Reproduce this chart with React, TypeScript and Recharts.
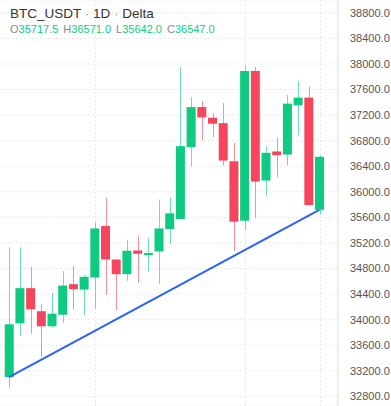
import React from "react";
import { ComposedChart, Bar, XAxis, YAxis, CartesianGrid, ReferenceLine } from "recharts";

const days = ["1","2","3","4","5","6","7","8","9","10","11","12","13","14","15","16","17","18","19","20","21","22","23","24","25","26","27","28","29","30"];
const opens = [33101,33944,34493,34132,33897,34078,34555,34471,34659,35465,34941,34712,35082,35010,35067,35418,35575,36698,37325,37159,37074,36478,35548,37890,36176,36631,36583,37352,37473,35717.5];
const highs = [35130,35130,34827,34242,34419,34759,34838,34701,35528,35904,34950,35246,35313,35277,35878,35914,37953,37482,37415,37231,37388,36767,37980,37953,36709,36845,37520,37733,37650,36571];
const lows = [32924,33740,33780,33415,33875,33953,34163,34069,34173,34383,34147,34607,34576,34753,34555,35183,35575,36395,36803,36855,36411,35078,35402,35584,35940,36227,36411,36882,35780,35642];
const closes = [33928,34493,34163,33897,34094,34533,34477,34670,35427,34941,34712,35078,35031,35042,35427,35663,36714,37325,37164,37065,36489,35532,37890,36160,36610,36573,37379,37473,35794,36547];
const trendStart = 33100;
const trendEnd = 35717.5;
const priceTicks = [32800,33200,33600,34000,34400,34800,35200,35600,36000,36400,36800,37200,37600,38000,38400,38800];
const gridDays = ["9","23","30"];
const domainMin = 32650;
const domainMax = 39000;

const GREEN = "#0ECB81";
const RED = "#F6465D";

const data = days.map((d, i) => ({
  day: d,
  range: [lows[i], highs[i]],
  open: opens[i],
  close: closes[i],
  high: highs[i],
  low: lows[i],
  grid: gridDays.includes(d),
}));

const Candle = (props: any) => {
  const { x, y, width, height, payload } = props;
  const top = Math.min(y, y + height);
  const h = Math.abs(height);
  const { open, close, high, low, grid } = payload;
  const k = high === low ? 0 : h / (high - low);
  const toY = (p: number) => top + (high - p) * k;
  const up = close >= open;
  const color = up ? GREEN : RED;
  const bTop = toY(Math.max(open, close));
  const bBot = toY(Math.min(open, close));
  const cx = Math.round(x + width / 2) + 0.5;
  return (
    <g>
      {grid && k > 0 ? (
        <line x1={cx} x2={cx} y1={toY(domainMax)} y2={toY(domainMin)} stroke="#e8e8e8" strokeDasharray="2 2" />
      ) : null}
      <line x1={cx} x2={cx} y1={top} y2={top + h} stroke={color} strokeOpacity={0.6} strokeWidth={1} />
      <rect x={x} y={bTop} width={width} height={Math.max(1, bBot - bTop)} fill={color} />
    </g>
  );
};

export default function App() {
  return (
    <div style={{ position: "fixed", left: 0, top: 0, width: 391, height: 406, background: "#fff" }}>
      <ComposedChart width={391} height={406} data={data} margin={{ top: 0, right: 0, bottom: 0, left: 0 }} barCategoryGap="10%">
        <CartesianGrid vertical={false} stroke="#e8e8e8" strokeDasharray="2 2" />
        <XAxis dataKey="day" hide padding={{ left: 3.65, right: 13.35 }} />
        <YAxis
          orientation="right"
          width={53}
          domain={[domainMin, domainMax]}
          ticks={priceTicks}
          interval={0}
          allowDataOverflow
          tickFormatter={(v: number) => v.toFixed(1)}
          tickLine={false}
          axisLine={{ stroke: "#e0e0e0" }}
          tick={{ fill: "#555", fontSize: 11, fontFamily: "Liberation Sans, Arial, sans-serif" }}
          tickMargin={6}
        />
        <Bar dataKey="range" shape={<Candle />} isAnimationActive={false} />
        <ReferenceLine
          segment={[{ x: days[0], y: trendStart }, { x: days[days.length - 1], y: trendEnd }]}
          stroke="#2962FF"
          strokeWidth={2}
        />
      </ComposedChart>
      <svg width={391} height={40} style={{ position: "absolute", left: 0, top: 0, pointerEvents: "none" }}>
        <text x={10} y={18} fontSize={13.5} fontFamily="Liberation Sans, Arial, sans-serif" fill="#333">
          BTC_USDT<tspan fill="#999"> · </tspan>1D<tspan fill="#999"> · </tspan>Delta
        </text>
        <text x={10} y={33} fontSize={11} fontFamily="Liberation Sans, Arial, sans-serif">
          <tspan fill="#888">O</tspan><tspan fill={GREEN}>35717.5</tspan>
          <tspan fill="#888" dx={5}>H</tspan><tspan fill={GREEN}>36571.0</tspan>
          <tspan fill="#888" dx={5}>L</tspan><tspan fill={GREEN}>35642.0</tspan>
          <tspan fill="#888" dx={5}>C</tspan><tspan fill={GREEN}>36547.0</tspan>
        </text>
      </svg>
    </div>
  );
}
